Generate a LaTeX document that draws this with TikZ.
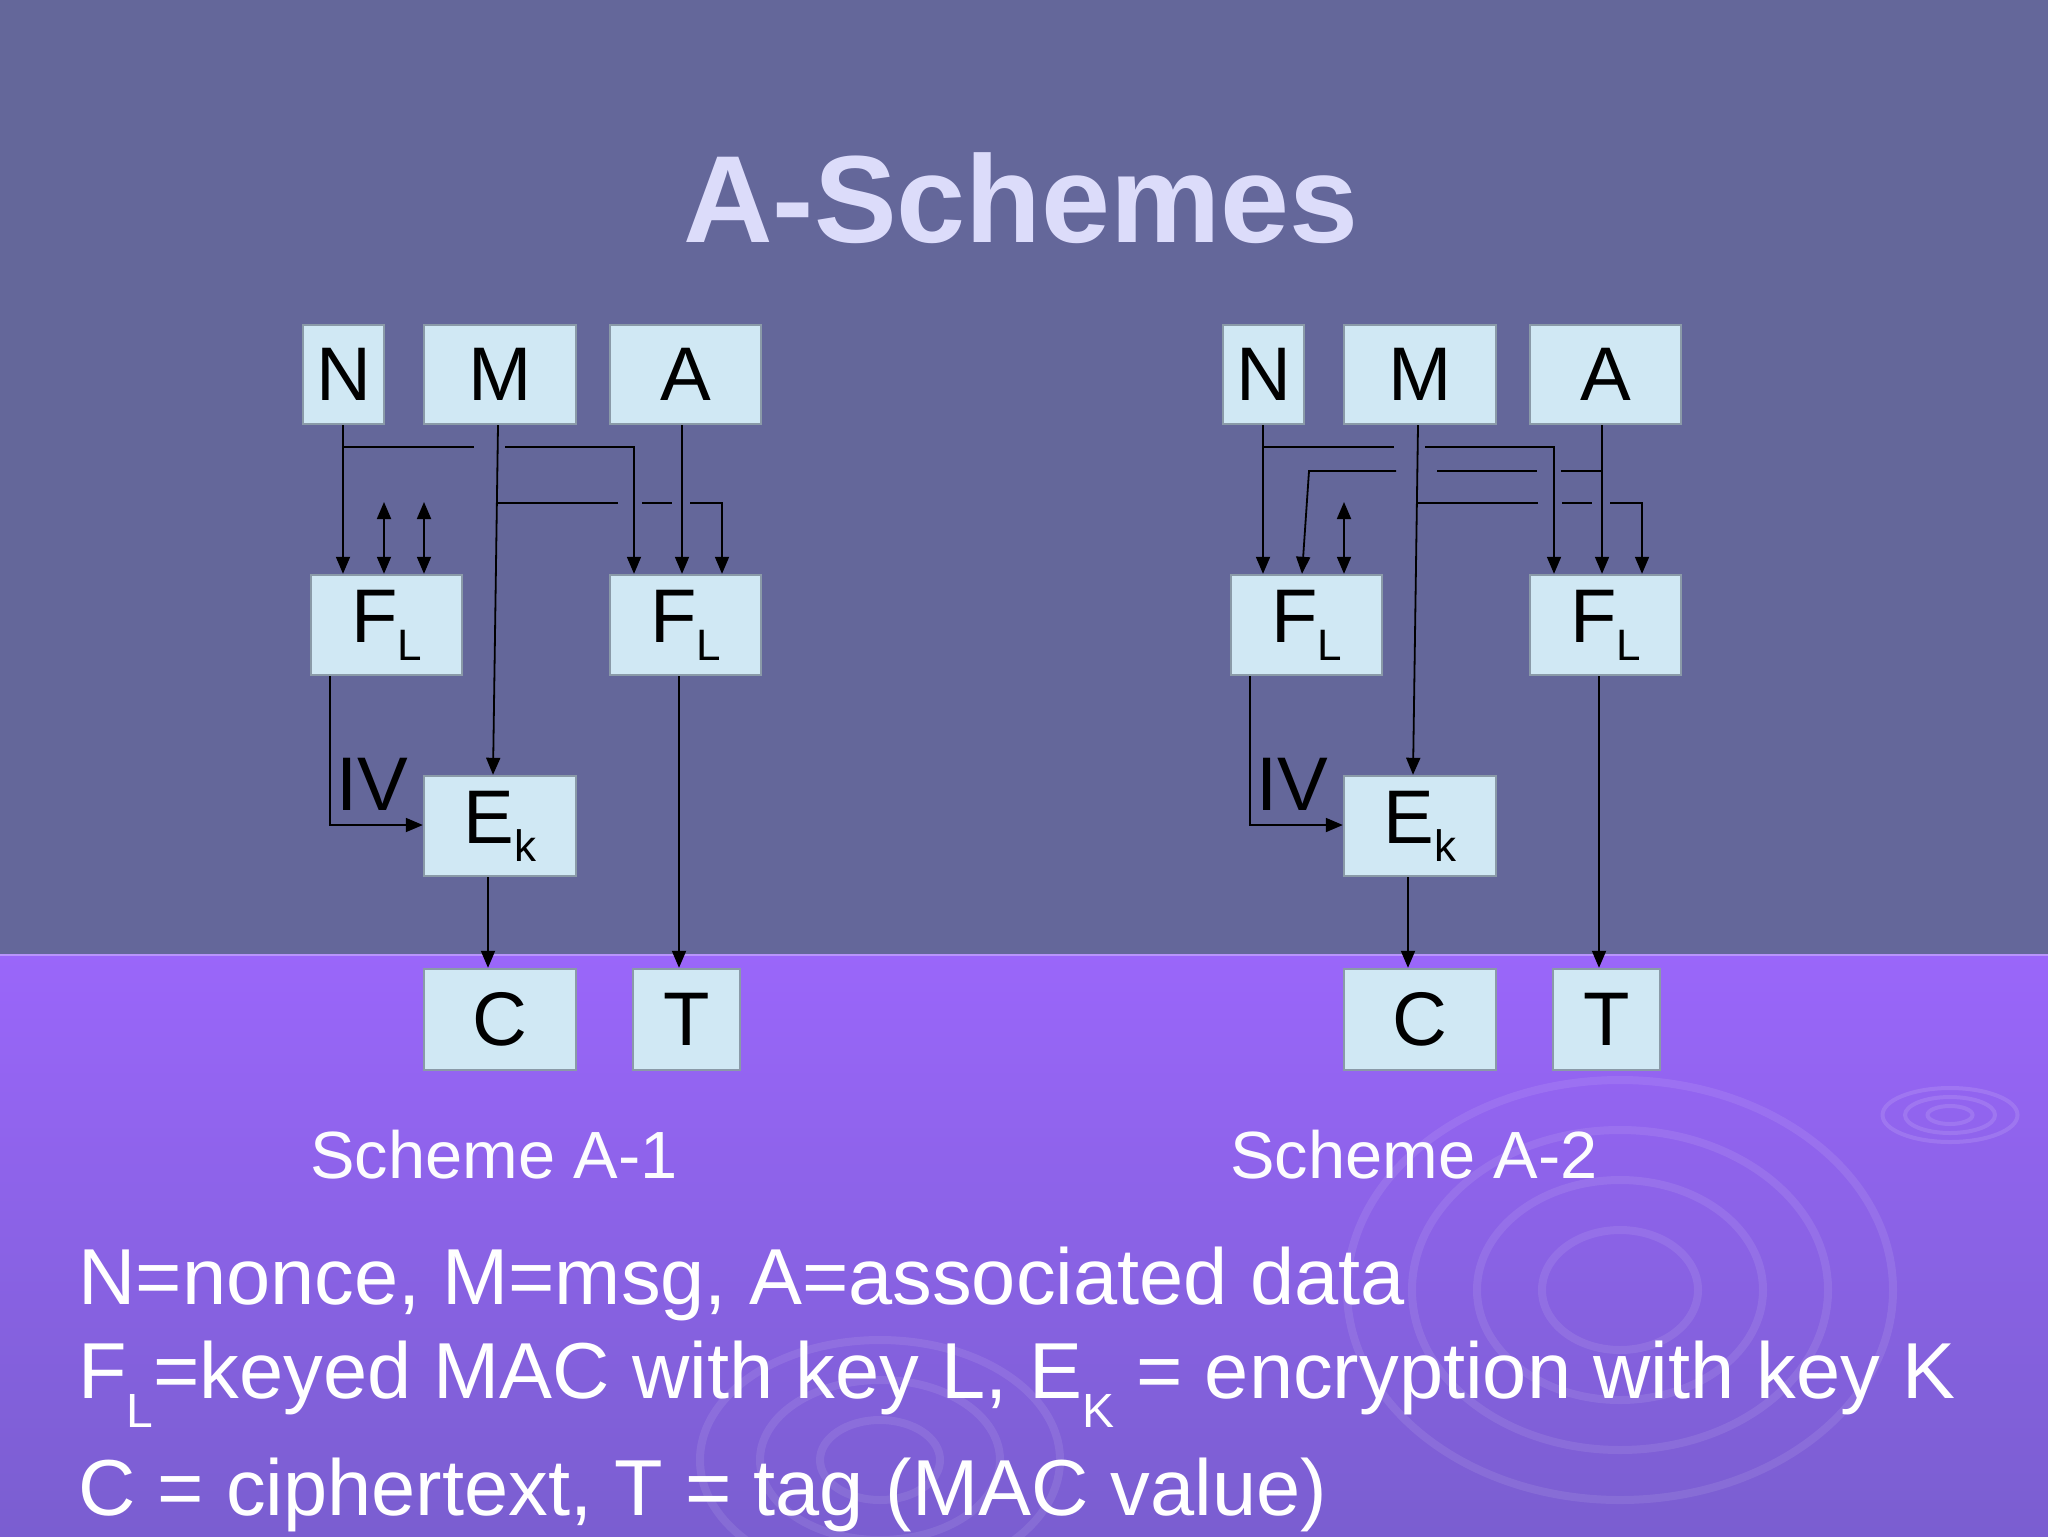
\documentclass[tikz,border=0pt]{standalone}
\usepackage{fontspec}
\setmainfont{Liberation Sans}
\usetikzlibrary{arrows.meta}
\definecolor{topbg}{HTML}{64679A}
\definecolor{botA}{HTML}{9A66FA}
\definecolor{botB}{HTML}{7A5ED0}
\definecolor{boxf}{HTML}{D0E8F4}
\definecolor{boxd}{HTML}{8A9AA8}
\definecolor{ttl}{HTML}{DCDCFA}
\begin{document}
\begin{tikzpicture}[x=0.5pt,y=-0.5pt,
  bx/.style={draw=boxd,line width=1.2pt,fill=boxf,inner sep=0pt,font=\fontsize{38}{40}\selectfont},
  ln/.style={line width=0.9pt,black},
  ar/.style={ln,-{Triangle[length=8.5pt,width=7pt]}},
  dar/.style={ln,{Triangle[length=8.5pt,width=7pt]}-{Triangle[length=8.5pt,width=7pt]}}]
\useasboundingbox (0,0) rectangle (2048,1536);
\fill[topbg] (0,0) rectangle (2048,955);
\shade[top color=botA,bottom color=botB] (0,955) rectangle (2048,1536);
\draw[botA!70!white,line width=0.6pt] (0,955) -- (2048,955);
% faint decorative rings
\foreach \r in {60,110,160,210}{\draw[white,opacity=0.09,line width=4pt] (1620,1290) ellipse ({\r*1.3} and \r);}
\foreach \r in {40,80,120}{\draw[white,opacity=0.09,line width=4pt] (880,1460) ellipse ({\r*1.5} and \r);}
\foreach \r in {15,30,45}{\draw[white,opacity=0.12,line width=2pt] (1950,1115) ellipse ({\r*1.5} and \r*0.6);}
\node[font=\bfseries\fontsize{62}{64}\selectfont,text=ttl] (title) at (1021,198) {A-Schemes};

\foreach \o/\s in {0/a,920/b}{
\begin{scope}[xshift=\o*0.5pt]
\node[bx,minimum width=40.5pt,minimum height=49.5pt] (N\s) at (343.5,374.5) {N};
\node[bx,minimum width=76pt,minimum height=49.5pt] (M\s) at (500,374.5) {M};
\node[bx,minimum width=75.5pt,minimum height=49.5pt] (A\s) at (685.5,374.5) {A};
\node[bx,minimum width=75.5pt,minimum height=50pt] (F1\s) at (386.5,625) {F\raisebox{-0.45ex}{\fontsize{22}{24}\selectfont L}};
\node[bx,minimum width=75.5pt,minimum height=50pt] (F2\s) at (685.5,625) {F\raisebox{-0.45ex}{\fontsize{22}{24}\selectfont L}};
\node[bx,minimum width=76pt,minimum height=50pt] (E\s) at (500,826) {E\raisebox{-0.45ex}{\fontsize{22}{24}\selectfont k}};
\node[bx,minimum width=76pt,minimum height=50.5pt] (C\s) at (500,1019.5) {C};
\node[bx,minimum width=53.5pt,minimum height=50.5pt] (T\s) at (686.5,1019.5) {T};
\node[font=\fontsize{38}{40}\selectfont,anchor=center] (IV\s) at (372,784) {IV};
% N lines
\draw[ar] (N\s.south -| 343,0) -- (F1\s.north -| 343,0);
\draw[ln] (343,447) -- (474,447);
\draw[ar] (505,447) -- (634,447) -- (F2\s.north -| 634,0);
% M lines
\draw[ar] (M\s.south -| 498,0) -- (E\s.north -| 493,0);
\draw[ln] (498,503) -- (618,503);
\draw[ln] (642,503) -- (672,503);
\draw[ar] (690,503) -- (722,503) -- (F2\s.north -| 722,0);
% A line
\draw[ar] (A\s.south -| 682,0) -- (F2\s.north -| 682,0);
% lower
\draw[ar] (F1\s.south -| 330,0) -- (330,825) -- (E\s.west |- 0,825);
\draw[ar] (E\s.south -| 488,0) -- (C\s.north -| 488,0);
\draw[ar] (F2\s.south -| 679,0) -- (T\s.north -| 679,0);
\end{scope}}
% scheme-specific
\draw[dar] (F1a.north -| 384,0) -- (384,502);
\draw[dar] (F1a.north -| 424,0) -- (424,502);
\draw[dar] (F1b.north -| 1344,0) -- (1344,502);
\draw[ar] (1396,471) -- (1309,471) -- (F1b.north -| 1302,0);
\draw[ln] (1437,471) -- (1537,471);
\draw[ln] (1561,471) -- (1602,471);

\node[font=\fontsize{33.4}{35}\selectfont,text=white!92!ttl] (s1) at (494,1155) {Scheme A-1};
\node[font=\fontsize{33.4}{35}\selectfont,text=white!92!ttl] (s2) at (1414,1155) {Scheme A-2};
\node[font=\fontsize{39.7}{42}\selectfont,text=white,anchor=base west,inner sep=0pt] (l1) at (78,1304) {N=nonce, M=msg, A=associated data};
\node[font=\fontsize{39.7}{42}\selectfont,text=white,anchor=base west,inner sep=0pt] (l2) at (78,1398) {F\raisebox{-0.7ex}{\fontsize{24}{26}\selectfont L}=keyed MAC with key L, E\raisebox{-0.7ex}{\fontsize{24}{26}\selectfont K} = encryption with key K};
\node[font=\fontsize{39.7}{42}\selectfont,text=white,anchor=base west,inner sep=0pt] (l3) at (78,1515) {C = ciphertext, T = tag (MAC value)};
\end{tikzpicture}
\end{document}
